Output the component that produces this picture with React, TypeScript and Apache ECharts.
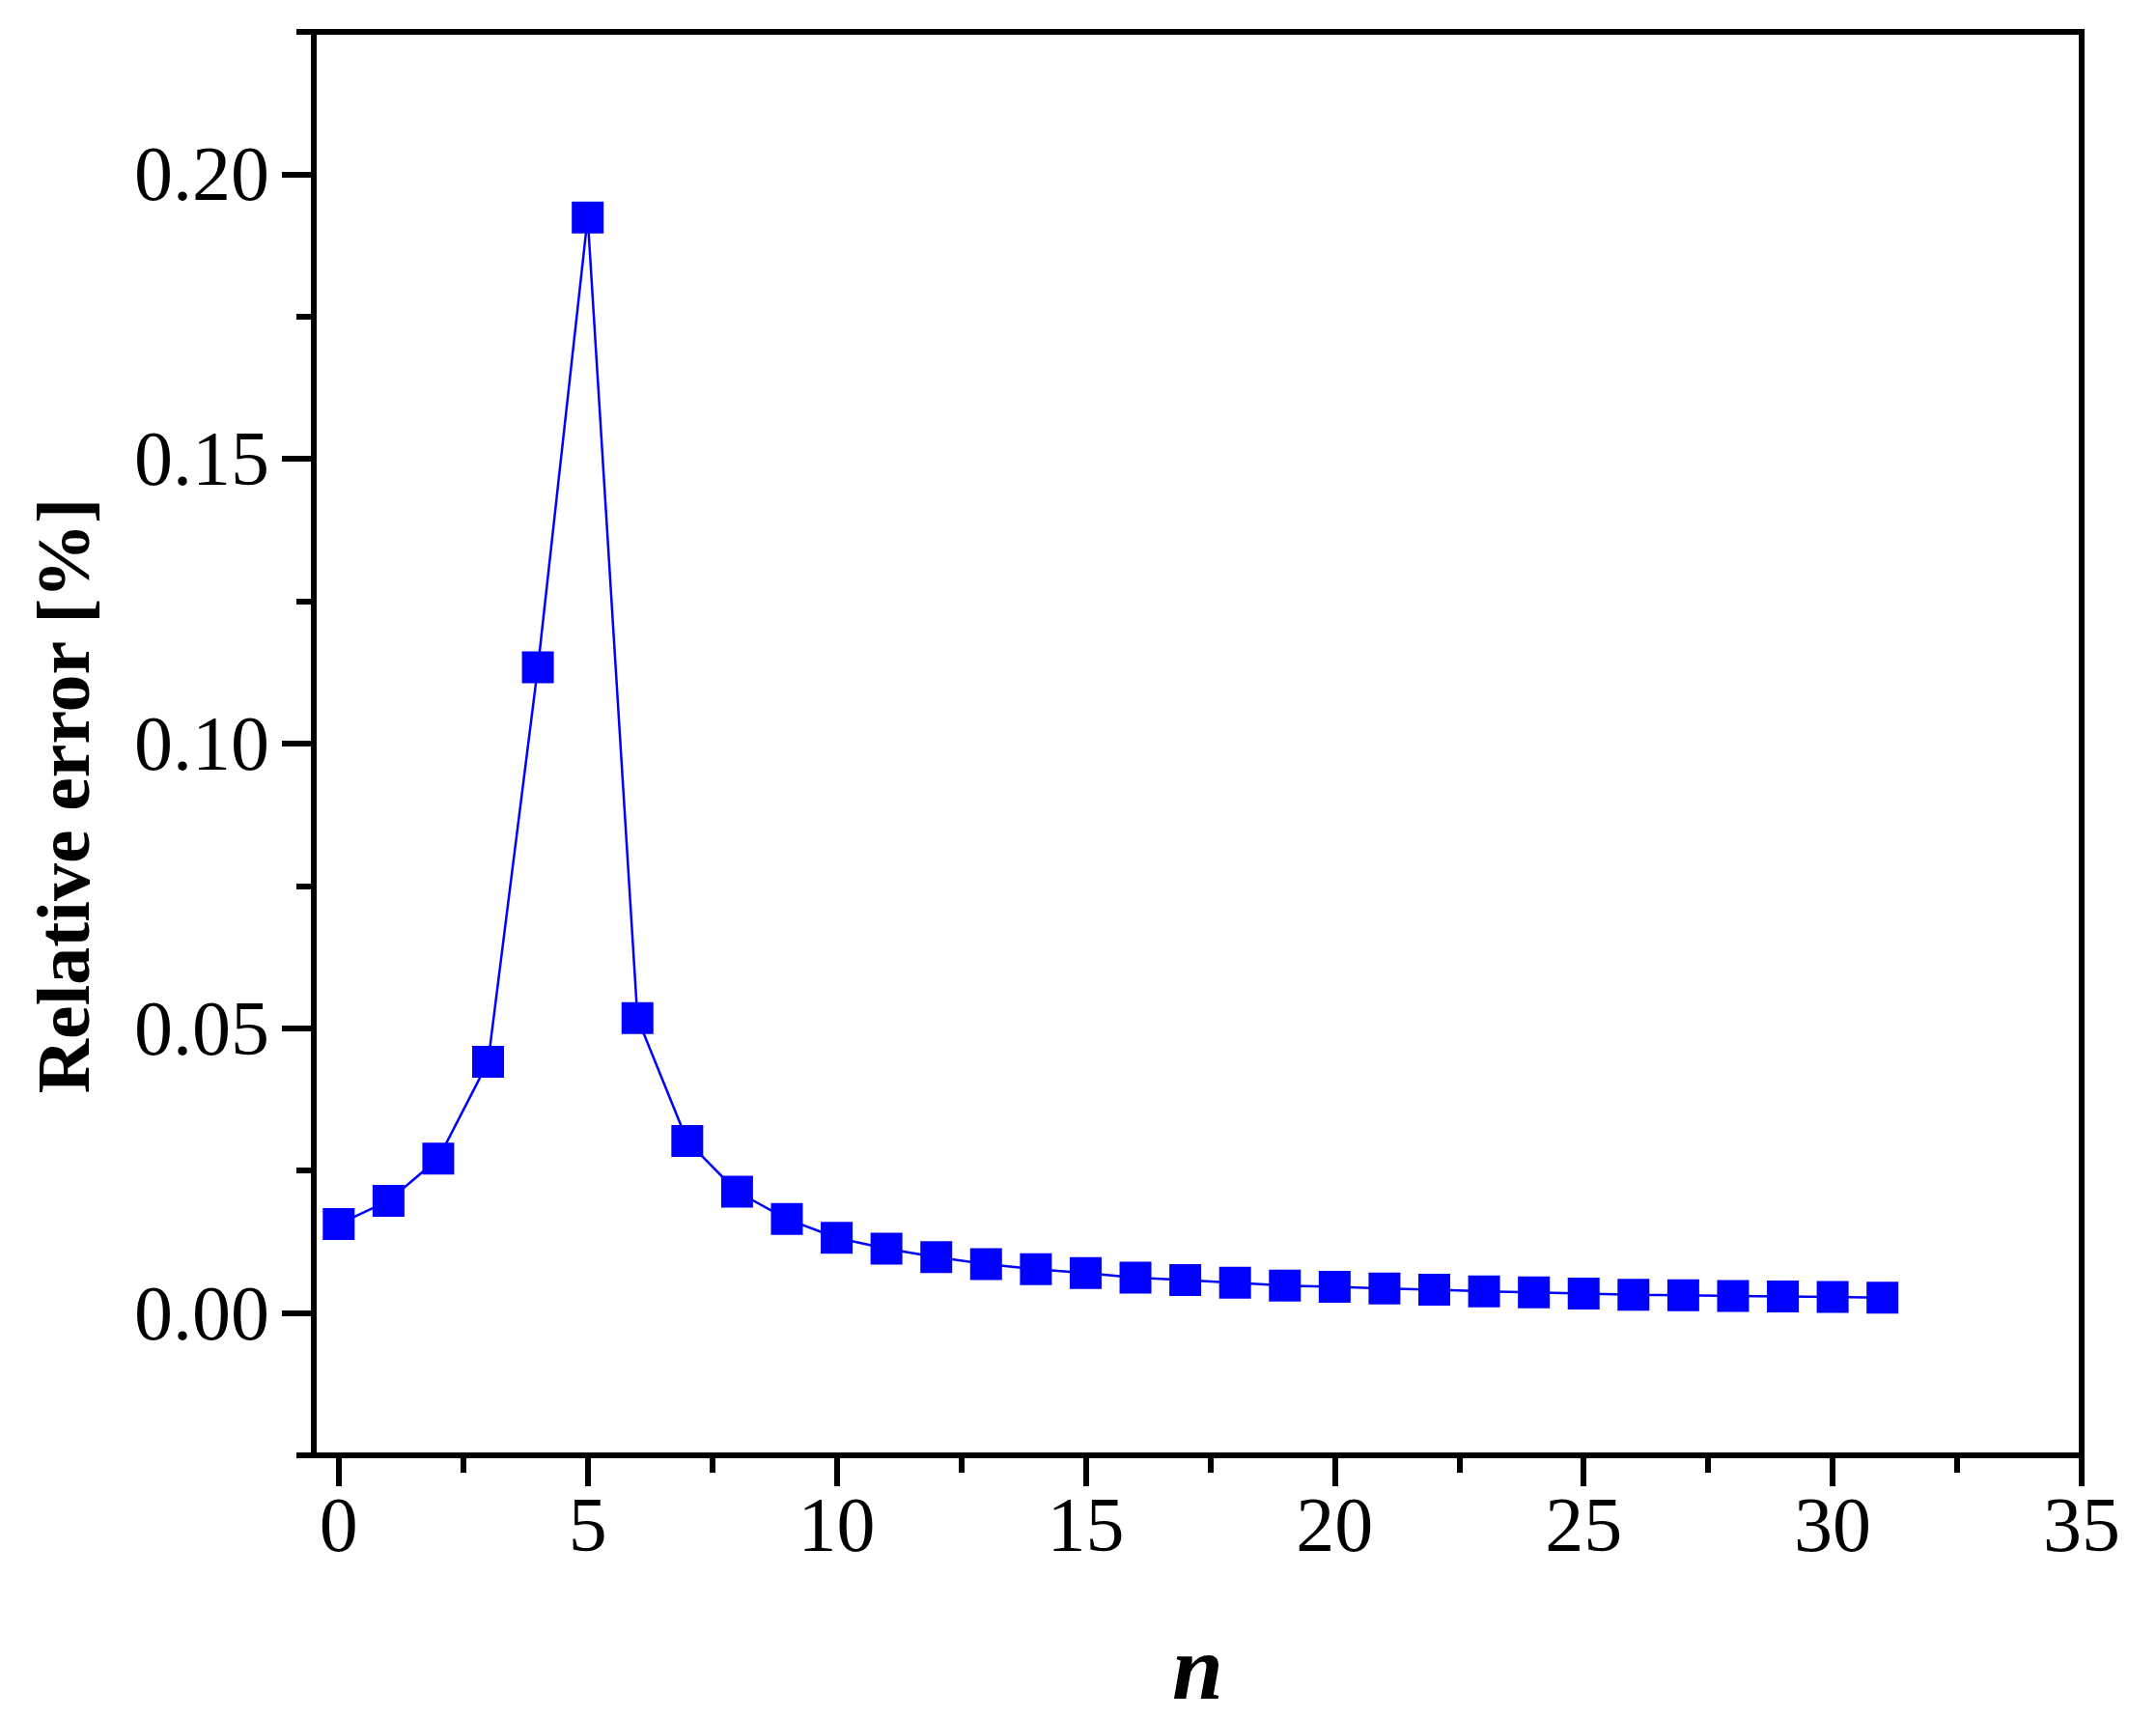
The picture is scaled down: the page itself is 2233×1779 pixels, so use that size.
import React, { useEffect, useRef } from "react";
import * as echarts from "echarts";

const nValues = [
  0, 1, 2, 3, 4, 5, 6, 7, 8, 9, 10, 11, 12, 13, 14, 15,
  16, 17, 18, 19, 20, 21, 22, 23, 24, 25, 26, 27, 28, 29, 30, 31,
];
const relErrors = [
  0.0156, 0.0197, 0.0271, 0.0441, 0.1134, 0.1924, 0.0518, 0.0302,
  0.0213, 0.0165, 0.0132, 0.0113, 0.0098, 0.0086, 0.0077, 0.007,
  0.0062, 0.0058, 0.0053, 0.0048, 0.0046, 0.0043, 0.0041, 0.0038,
  0.0036, 0.0034, 0.0032, 0.0031, 0.003, 0.0029, 0.0028, 0.0027,
];
const xMajorTicks = [0, 5, 10, 15, 20, 25, 30, 35];
const xMinorTicks = [2.5, 7.5, 12.5, 17.5, 22.5, 27.5, 32.5];
const yMajorTicks = [0, 0.05, 0.1, 0.15, 0.2];
const yMinorTicks = [-0.025, 0.025, 0.075, 0.125, 0.175, 0.225];

const FONT = "'Liberation Serif', 'Times New Roman', serif";

export default function App() {
  const ref = useRef<HTMLDivElement>(null);
  useEffect(() => {
    if (!ref.current) return;
    const chart = echarts.init(ref.current, undefined, { renderer: "svg" });
    const axisLine = { show: true, onZero: false, lineStyle: { color: "#000", width: 6 } };
    chart.setOption({
      animation: false,
      backgroundColor: "#fff",
      grid: {
        left: 325,
        right: 77,
        top: 33,
        bottom: 260,
        show: true,
        borderColor: "#000",
        borderWidth: 6,
        backgroundColor: "transparent",
      },
      xAxis: [
        {
          type: "value",
          min: -0.5,
          max: 35,
          position: "bottom",
          axisLine,
          splitLine: { show: false },
          axisTick: {
            show: true,
            customValues: xMajorTicks,
            length: 32,
            lineStyle: { color: "#000", width: 6 },
          },
          axisLabel: {
            customValues: xMajorTicks,
            margin: 32,
            fontFamily: FONT,
            fontSize: 80,
            color: "#000",
          },
          name: "n",
          nameLocation: "middle",
          nameGap: 172,
          nameTextStyle: {
            fontFamily: FONT,
            fontSize: 95,
            fontWeight: "bold",
            fontStyle: "italic",
            color: "#000",
          },
        },
        {
          type: "value",
          min: -0.5,
          max: 35,
          position: "bottom",
          axisLine: { show: false, onZero: false },
          splitLine: { show: false },
          axisTick: {
            show: true,
            customValues: xMinorTicks,
            length: 18,
            lineStyle: { color: "#000", width: 6 },
          },
          axisLabel: { show: false },
        },
      ],
      yAxis: [
        {
          type: "value",
          min: -0.025,
          max: 0.225,
          position: "left",
          axisLine,
          splitLine: { show: false },
          axisTick: {
            show: true,
            customValues: yMajorTicks,
            length: 33,
            lineStyle: { color: "#000", width: 6 },
          },
          axisLabel: {
            customValues: yMajorTicks,
            margin: 46,
            fontFamily: FONT,
            fontSize: 80,
            color: "#000",
            formatter: (v: number) => v.toFixed(2),
          },
          name: "Relative error [%]",
          nameLocation: "middle",
          nameGap: 221,
          nameTextStyle: {
            fontFamily: FONT,
            fontSize: 78,
            fontWeight: "bold",
            color: "#000",
            padding: [0, 108, 0, 0],
          },
        },
        {
          type: "value",
          min: -0.025,
          max: 0.225,
          position: "left",
          axisLine: { show: false, onZero: false },
          splitLine: { show: false },
          axisTick: {
            show: true,
            customValues: yMinorTicks,
            length: 18,
            lineStyle: { color: "#000", width: 6 },
          },
          axisLabel: { show: false },
        },
      ],
      series: [
        {
          type: "line",
          xAxisIndex: 0,
          yAxisIndex: 0,
          data: nValues.map((n, i) => [n, relErrors[i]]),
          symbol: "rect",
          symbolSize: 33,
          itemStyle: { color: "#0000FF" },
          lineStyle: { color: "#0000FF", width: 2.5 },
          z: 3,
        },
      ],
    });
    return () => chart.dispose();
  }, []);
  return (
    <div
      ref={ref}
      style={{ position: "fixed", left: 0, top: 0, width: 2233, height: 1779, background: "#fff" }}
    />
  );
}
